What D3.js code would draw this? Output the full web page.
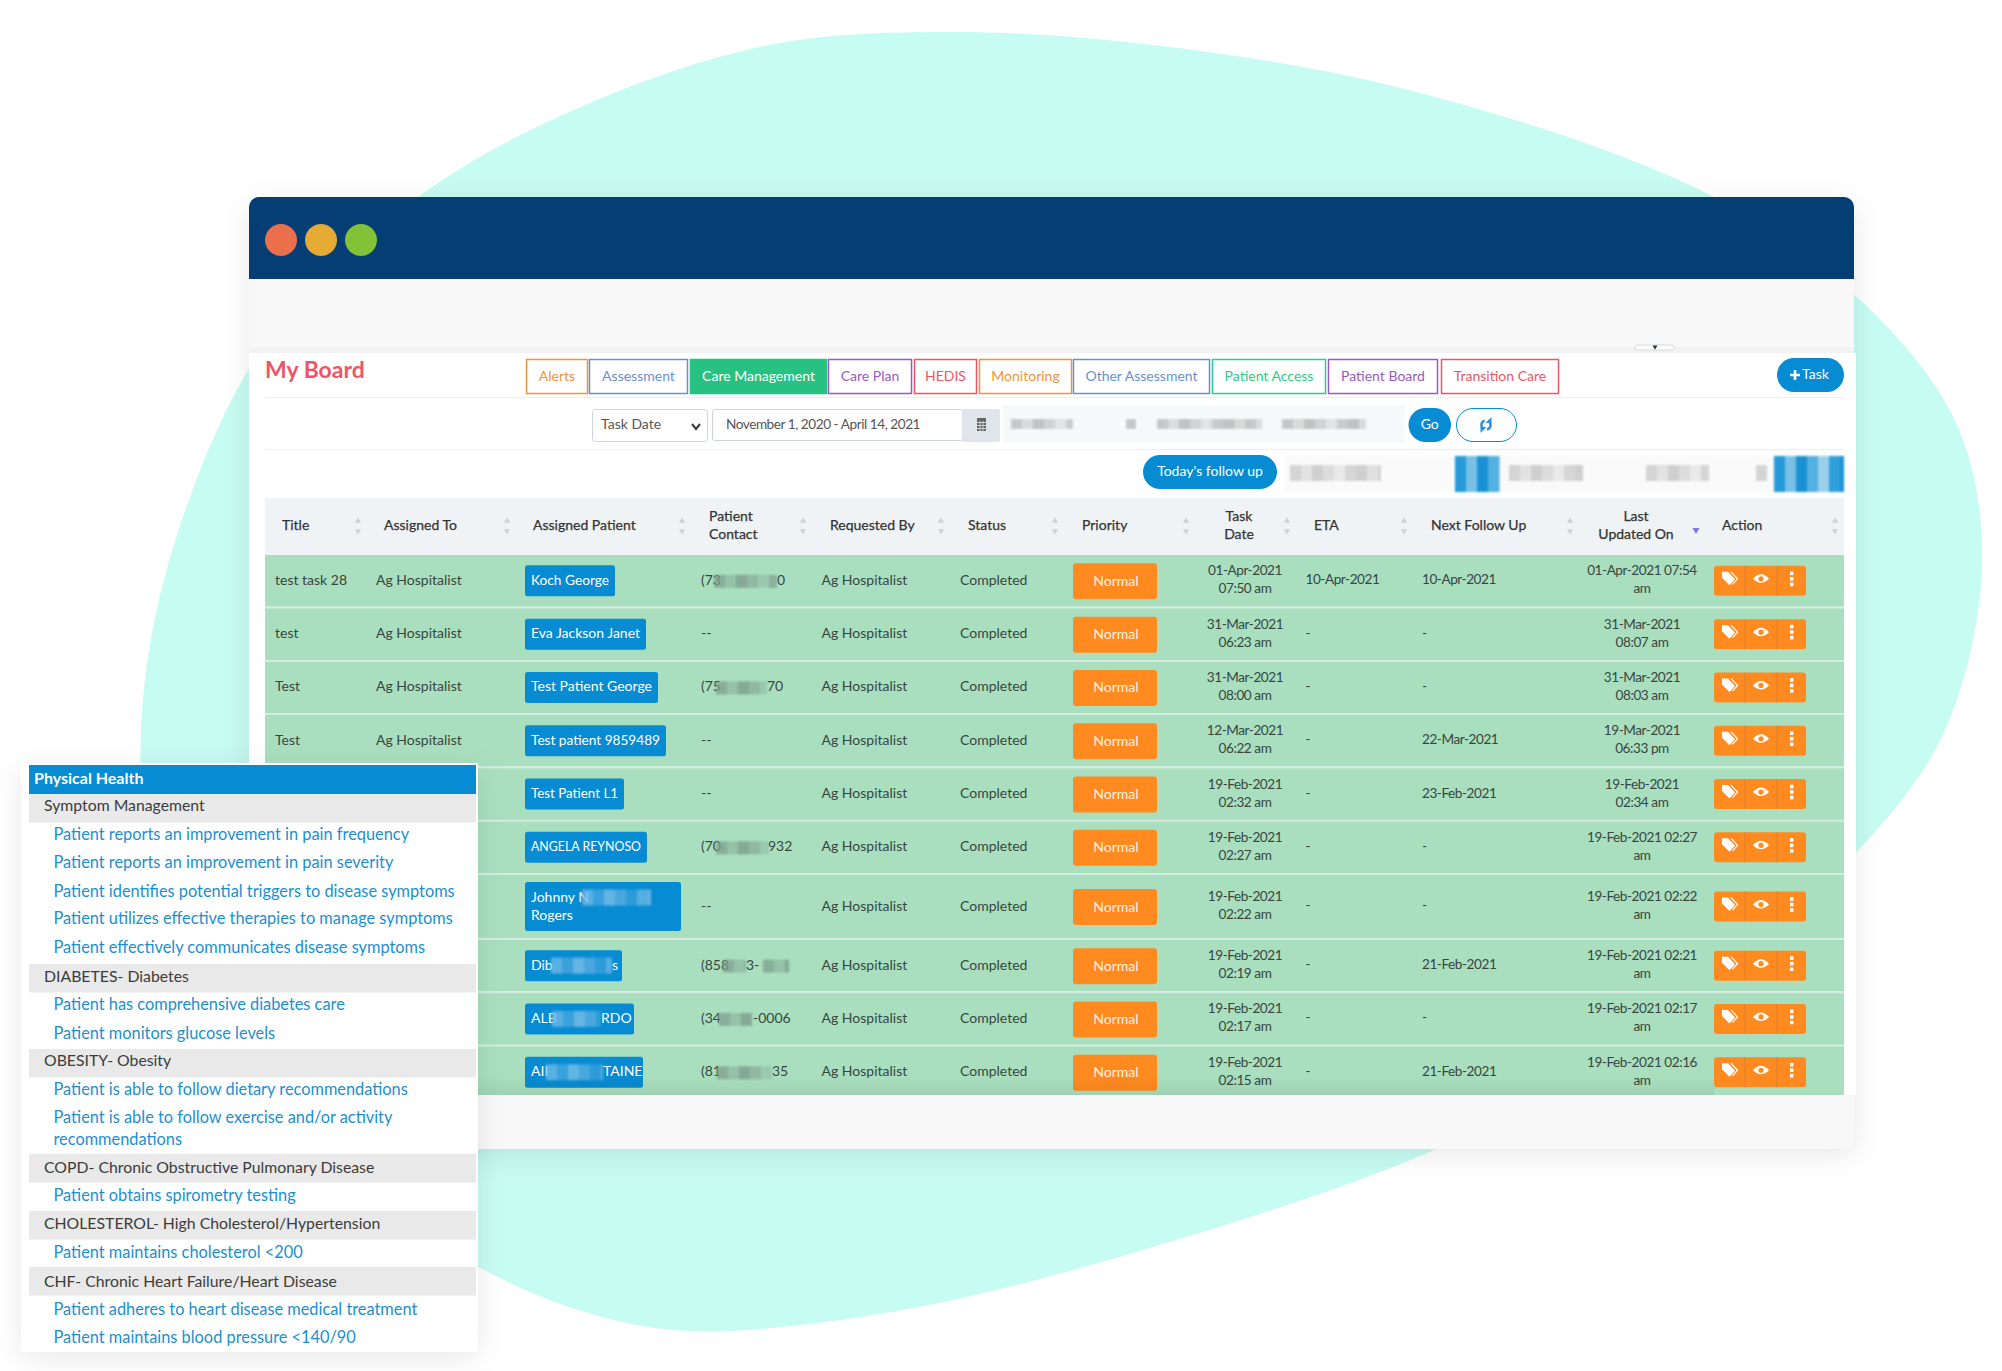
<!DOCTYPE html>
<html>
<head>
<meta charset="utf-8">
<title>My Board</title>
<script src="https://cdnjs.cloudflare.com/ajax/libs/d3/7.8.5/d3.min.js"></script>
<style>
  html, body { margin: 0; background: #fff; }
  svg { display: block; font-family: Lato, "Open Sans", sans-serif; }
  text { dominant-baseline: central; }
</style>
</head>
<body>
<div id="chart"></div>
<script>
// ---- data ----
const tabNames = ["Alerts", "Assessment", "Care Management", "Care Plan", "HEDIS", "Monitoring", "Other Assessment", "Patient Access", "Patient Board", "Transition Care"];
const columnNames = ["Title", "Assigned To", "Assigned Patient", "Patient|Contact", "Requested By", "Status", "Priority", "Task|Date", "ETA", "Next Follow Up", "Last|Updated On", "Action"];

// rows 5-10 of the first two columns sit behind the checklist panel
const titles = ["test task 28", "test", "Test", "Test", "", "", "", "", "", ""];
const assignedTo = ["Ag Hospitalist", "Ag Hospitalist", "Ag Hospitalist", "Ag Hospitalist", "", "", "", "", "", ""];
const patients = ["Koch George", "Eva Jackson Janet", "Test Patient George", "Test patient 9859489", "Test Patient L1", "ANGELA REYNOSO", "Johnny N|Rogers", "Dib", "ALB", "AII"];
const patientTails = ["", "", "", "", "", "", "", "s", "RDO", "TAINE"];
const contacts = ["(73", "--", "(75", "--", "--", "(70", "--", "(858", "(34", "(81"];
const contactTails = ["0", "", "70", "", "", "932", "", "3-", "-0006", "35"];
const requestedBy = ["Ag Hospitalist", "Ag Hospitalist", "Ag Hospitalist", "Ag Hospitalist", "Ag Hospitalist", "Ag Hospitalist", "Ag Hospitalist", "Ag Hospitalist", "Ag Hospitalist", "Ag Hospitalist"];
const statuses = ["Completed", "Completed", "Completed", "Completed", "Completed", "Completed", "Completed", "Completed", "Completed", "Completed"];
const priorities = ["Normal", "Normal", "Normal", "Normal", "Normal", "Normal", "Normal", "Normal", "Normal", "Normal"];
const taskDates = ["01-Apr-2021|07:50 am", "31-Mar-2021|06:23 am", "31-Mar-2021|08:00 am", "12-Mar-2021|06:22 am", "19-Feb-2021|02:32 am", "19-Feb-2021|02:27 am", "19-Feb-2021|02:22 am", "19-Feb-2021|02:19 am", "19-Feb-2021|02:17 am", "19-Feb-2021|02:15 am"];
const etas = ["10-Apr-2021", "-", "-", "-", "-", "-", "-", "-", "-", "-"];
const nextFollowUps = ["10-Apr-2021", "-", "-", "22-Mar-2021", "23-Feb-2021", "-", "-", "21-Feb-2021", "-", "21-Feb-2021"];
const lastUpdated = ["01-Apr-2021 07:54|am", "31-Mar-2021|08:07 am", "31-Mar-2021|08:03 am", "19-Mar-2021|06:33 pm", "19-Feb-2021|02:34 am", "19-Feb-2021 02:27|am", "19-Feb-2021 02:22|am", "19-Feb-2021 02:21|am", "19-Feb-2021 02:17|am", "19-Feb-2021 02:16|am"];

const healthTitle = "Physical Health";
const healthGroups = ["Symptom Management", "DIABETES- Diabetes", "OBESITY- Obesity", "COPD- Chronic Obstructive Pulmonary Disease", "CHOLESTEROL- High Cholesterol/Hypertension", "CHF- Chronic Heart Failure/Heart Disease"];
const healthItems = [
    ["Patient reports an improvement in pain frequency", "Patient reports an improvement in pain severity", "Patient identifies potential triggers to disease symptoms", "Patient utilizes effective therapies to manage symptoms", "Patient effectively communicates disease symptoms"],
    ["Patient has comprehensive diabetes care", "Patient monitors glucose levels"],
    ["Patient is able to follow dietary recommendations", "Patient is able to follow exercise and/or activity|recommendations"],
    ["Patient obtains spirometry testing"],
    ["Patient maintains cholesterol <200"],
    ["Patient adheres to heart disease medical treatment", "Patient maintains blood pressure <140/90"]
];

// ---- layout ----
const W = 2002, H = 1371;
const BLUE = "#078BD2", ORANGE = "#FF8A1F", ROW_BG = "#A9DFBF", INK = "#38463F", MINT = "#C7FCF2";
const FONT_ROW = 14, FONT_LIST = 16.35, FONT_GROUP = 15.8;
const BASELINE_FIX = -1.5; // Lato sits a little low with a central baseline

const blobPoints = [[948,32],[769,45],[576,109],[418,197],[272,333],[176,538],[141,730],[160,922],[256,1127],[480,1268],[585,1312],[690,1331],[897,1311],[1153,1247],[1448,1144],[1665,1023],[1856,853],[1945,730],[1982,563],[1956,423],[1857,297],[1704,192],[1409,90],[1153,45]];

const tabEdges = [[526,588],[589,688],[690,827],[828,912],[914,977],[979,1072],[1073,1210],[1212,1326],[1328,1438],[1441,1559]];
const tabColors = ["#F39237", "#6A8FD0", "#27C281", "#9B59C6", "#EE5566", "#F39237", "#6A8FD0", "#2ECC8A", "#9B59C6", "#EE5566"];

const headerX = [282, 384, 533, 709, 830, 968, 1082, 1239, 1314, 1431, 1636, 1722];
const sortX = [358, 507, 682, 803, 941, 1055, 1186, 1287, 1404, 1570, 1696, 1835];
const chipRight = [615, 646, 658, 666, 624, 647, 681, 622, 634, 643];
const tailX = [0, 0, 0, 0, 0, 0, 0, 612, 601, 603];
const contactTailX = [777, 0, 767, 0, 0, 768, 0, 746, 753, 772];
const patientBlur = [null, null, null, null, null, null, [582, 651], [551, 612], [552, 601], [546, 603]];
const contactBlur = [[[714, 777]], null, [[716, 767]], null, null, [[716, 769]], null, [[723, 746], [763, 789]], [[719, 752]], [[717, 772]]];

const svg = d3.select("#chart").append("svg").attr("width", W).attr("height", H).attr("viewBox", `0 0 ${W} ${H}`);
const defs = svg.append("defs");

const shadow = defs.append("filter").attr("id", "shadow").attr("x", "-10%").attr("y", "-10%").attr("width", "120%").attr("height", "120%");
shadow.append("feDropShadow").attr("dx", 0).attr("dy", 6).attr("stdDeviation", 14).attr("flood-color", "#000").attr("flood-opacity", 0.09);
defs.append("filter").attr("id", "soft").append("feGaussianBlur").attr("stdDeviation", 1.2);
const fade = defs.append("linearGradient").attr("id", "fade").attr("x1", 0).attr("x2", 0).attr("y1", 0).attr("y2", 1);
fade.append("stop").attr("offset", 0).attr("stop-color", "#000").attr("stop-opacity", 0);
fade.append("stop").attr("offset", 1).attr("stop-color", "#000").attr("stop-opacity", 0.06);

function label(g, x, y, str, size, fill, anchor, weight) {
    return g.append("text").attr("x", x).attr("y", y + BASELINE_FIX).attr("font-size", size).attr("fill", fill)
        .attr("text-anchor", anchor || "start").attr("font-weight", weight || 400).text(str);
}

// multi-line helper, "|" splits lines
function lines(g, x, y, str, size, fill, anchor, step) {
    const parts = str.split("|");
    return parts.map((p, i) => label(g, x, y + (i - (parts.length - 1) / 2) * step, p, size, fill, anchor));
}

// pixelated smudge that hides a name or phone number
function mosaic(g, x0, x1, y0, y1, color, opacity) {
    const m = g.append("g").attr("filter", "url(#soft)");
    const cols = d3.range(x0, x1, 11);
    const shades = [0.9, 0.55, 1, 0.7, 0.4, 0.85, 1, 0.6];
    cols.forEach((x, i) => {
        m.append("rect").attr("x", x).attr("y", y0).attr("width", Math.min(11, x1 - x)).attr("height", y1 - y0)
            .attr("fill", color).attr("opacity", opacity * shades[i % shades.length]);
    });
}

// dates have wide digits in Lato, pull them together
const tight = sel => sel.attr("font-size", 13.6).attr("letter-spacing", -0.45);

// ---- background blob ----
svg.append("path")
    .attr("d", d3.line().curve(d3.curveCatmullRomClosed.alpha(0.5))(blobPoints))
    .attr("fill", MINT);

// ---- browser window ----
const win = svg.append("g");
win.append("rect").attr("x", 249).attr("y", 197).attr("width", 1605).attr("height", 952).attr("rx", 10)
    .attr("fill", "#F8F8F8").attr("filter", "url(#shadow)");
win.append("path").attr("d", "M249,279V207a10,10 0 0 1 10,-10H1844a10,10 0 0 1 10,10V279Z").attr("fill", "#053D75");
[["#EC6F4C", 281], ["#E5AB35", 321], ["#81C236", 361]].forEach(([c, x]) => {
    win.append("circle").attr("cx", x).attr("cy", 240).attr("r", 16).attr("fill", c);
});

// white page area
win.append("rect").attr("x", 249).attr("y", 353).attr("width", 1607).attr("height", 742).attr("fill", "#fff");
win.append("rect").attr("x", 249).attr("y", 347).attr("width", 1605).attr("height", 6).attr("fill", "#F1F2F3");
win.append("rect").attr("x", 1635).attr("y", 345).attr("width", 39).attr("height", 5).attr("rx", 2).attr("fill", "#fff").attr("stroke", "#D6D9DD");
win.append("path").attr("d", d3.symbol(d3.symbolTriangle, 10)()).attr("transform", "translate(1655,347) rotate(180)").attr("fill", "#333");

label(win, 265, 370.5, "My Board", 23, "#EE5566", "start", 700);

// tabs
const tabs = win.selectAll("g.tab").data(tabNames).join("g").attr("class", "tab");
tabs.append("rect")
    .attr("x", (d, i) => tabEdges[i][0] + 0.5).attr("y", 359.5)
    .attr("width", (d, i) => tabEdges[i][1] - tabEdges[i][0] - 1).attr("height", 34)
    .attr("fill", (d, i) => i === 2 ? tabColors[i] : "#fff")
    .attr("stroke", (d, i) => tabColors[i]).attr("stroke-width", 1.5);
tabs.append("text")
    .attr("x", (d, i) => (tabEdges[i][0] + tabEdges[i][1]) / 2).attr("y", 377 + BASELINE_FIX)
    .attr("text-anchor", "middle").attr("font-size", FONT_ROW)
    .attr("fill", (d, i) => i === 2 ? "#fff" : tabColors[i]).text(d => d);

// + Task
win.append("rect").attr("x", 1777).attr("y", 358).attr("width", 67).attr("height", 34).attr("rx", 17).attr("fill", BLUE);
label(win, 1802, 375, "Task", FONT_ROW, "#fff");
win.append("path").attr("d", "M1790,375h10M1795,370v10").attr("stroke", "#fff").attr("stroke-width", 2.6);

win.append("rect").attr("x", 265).attr("y", 397).attr("width", 1579).attr("height", 1).attr("fill", "#ECEEF1");
win.append("rect").attr("x", 265).attr("y", 449).attr("width", 1579).attr("height", 1).attr("fill", "#ECEEF1");

// filter row
win.append("rect").attr("x", 592.5).attr("y", 409.5).attr("width", 115).attr("height", 32).attr("rx", 3).attr("fill", "#fff").attr("stroke", "#CDD4E0");
label(win, 601, 425, "Task Date", FONT_ROW, "#555");
win.append("path").attr("d", "M692,424l4,5l4,-5").attr("fill", "none").attr("stroke", "#444").attr("stroke-width", 2.2);
win.append("rect").attr("x", 712.5).attr("y", 409.5).attr("width", 250).attr("height", 31).attr("rx", 2).attr("fill", "#fff").attr("stroke", "#CDD4E0");
tight(label(win, 726, 425, "November 1, 2020 - April 14, 2021", FONT_ROW, "#555"));
win.append("rect").attr("x", 962).attr("y", 409).attr("width", 38).attr("height", 33).attr("rx", 2).attr("fill", "#E0E5EC");
win.append("rect").attr("x", 977).attr("y", 418).attr("width", 9).attr("height", 13).attr("fill", "#666");
win.append("path").attr("d", "M977,422.5h9M977,425.5h9M977,428.5h9M980,421v10M983,421v10").attr("stroke", "#E0E5EC").attr("stroke-width", 0.8);

win.append("rect").attr("x", 1003).attr("y", 405).attr("width", 402).attr("height", 38).attr("fill", "#F7F8F9").attr("filter", "url(#soft)");
[[1011, 1073], [1126, 1136], [1157, 1262], [1282, 1366]].forEach(([a, b]) => mosaic(win, a, b, 419, 429, "#BDBDBD", 0.9));

win.append("rect").attr("x", 1408.5).attr("y", 408).attr("width", 42.5).attr("height", 34).attr("rx", 17).attr("fill", BLUE);
label(win, 1429.7, 425, "Go", FONT_ROW, "#fff", "middle");
win.append("rect").attr("x", 1456.5).attr("y", 408.5).attr("width", 60).attr("height", 33).attr("rx", 16.5).attr("fill", "#fff").attr("stroke", BLUE);
// refresh glyph: two arcs, each with its arrow head
[[0.5, 2.9, "M1491.5,417v6h-6Z"], [3.6, 6.0, "M1480.5,433v-6h6Z"]].forEach(([a0, a1, head]) => {
    win.append("path").attr("d", d3.arc()({ innerRadius: 3.4, outerRadius: 5.8, startAngle: a0, endAngle: a1 })).attr("transform", "translate(1486,425)").attr("fill", "#2E8FDD");
    win.append("path").attr("d", head).attr("fill", "#2E8FDD");
});

// today's row
win.append("rect").attr("x", 1143).attr("y", 455).attr("width", 134).attr("height", 34).attr("rx", 17).attr("fill", BLUE);
label(win, 1210, 472, "Today's follow up", FONT_ROW, "#fff", "middle");
win.append("rect").attr("x", 1284).attr("y", 456).attr("width", 560).attr("height", 36).attr("fill", "#FAFAFB").attr("filter", "url(#soft)");
[[1290, 1381], [1509, 1583], [1646, 1709], [1756, 1767]].forEach(([a, b]) => mosaic(win, a, b, 465, 481, "#C8C8C8", 0.85));
[[1455, 1500], [1774, 1844]].forEach(([a, b]) => mosaic(win, a, b, 456, 492, BLUE, 0.95));

// table header
win.append("rect").attr("x", 265).attr("y", 498).attr("width", 1579).attr("height", 57).attr("fill", "#F0F3F6");
const centred = new Set([7, 10]);
columnNames.forEach((c, i) => {
    lines(win, headerX[i], 526, c, FONT_ROW, "#333", centred.has(i) ? "middle" : "start", 18)
        .forEach(t => t.attr("stroke", "#333").attr("stroke-width", 0.25));
    if (i === 10) {
        win.append("path").attr("d", d3.symbol(d3.symbolTriangle, 22)()).attr("transform", `translate(${sortX[i]},530) rotate(180)`).attr("fill", "#7C7CE0");
    } else {
        win.append("path").attr("d", d3.symbol(d3.symbolTriangle, 18)()).attr("transform", `translate(${sortX[i]},521)`).attr("fill", "#CFD3D8");
        win.append("path").attr("d", d3.symbol(d3.symbolTriangle, 18)()).attr("transform", `translate(${sortX[i]},531) rotate(180)`).attr("fill", "#CFD3D8");
    }
});

// table rows, a name that wraps makes its row taller
const rowIdx = d3.range(patients.length);
const heights = patients.map(p => p.includes("|") ? 65 : 53.3);
const tops = [0, ...d3.cumsum(heights)];
const yRow = d3.scaleLinear().domain([0, tops[tops.length - 1]]).range([555, 555 + tops[tops.length - 1]]);

defs.append("clipPath").attr("id", "rowsClip").append("rect").attr("x", 265).attr("y", 555).attr("width", 1579).attr("height", 540);
const rows = win.append("g").attr("clip-path", "url(#rowsClip)").selectAll("g").data(rowIdx).join("g");
rows.append("rect").attr("x", 265).attr("y", i => yRow(tops[i])).attr("width", 1579).attr("height", i => heights[i] - 1.6).attr("fill", ROW_BG);
rows.append("rect").attr("x", 265).attr("y", i => yRow(tops[i]) + heights[i] - 1.6).attr("width", 1579).attr("height", 1.6).attr("fill", "#D6ECE0");

rows.each(function (i) {
    const g = d3.select(this);
    const cy = yRow(tops[i]) + heights[i] / 2 - 0.8;

    label(g, 275, cy, titles[i], FONT_ROW, INK);
    label(g, 376, cy, assignedTo[i], FONT_ROW, INK);

    // patient chip
    const tall = heights[i] > 60;
    const chipH = tall ? 49 : 31;
    g.append("rect").attr("x", 525).attr("y", cy - chipH / 2).attr("width", chipRight[i] - 525).attr("height", chipH).attr("rx", 2.5).attr("fill", BLUE);
    const nameTexts = lines(g, 531, cy, patients[i], FONT_ROW, "#fff", "start", 18);
    if (!tall && !patientTails[i]) {
        // whole name visible: make it fill the chip as it does in the picture
        nameTexts[0].attr("textLength", chipRight[i] - 525 - 12).attr("lengthAdjust", "spacingAndGlyphs");
    }
    if (patientTails[i]) label(g, tailX[i], cy, patientTails[i], FONT_ROW, "#fff");
    if (patientBlur[i]) {
        const [a, b] = patientBlur[i];
        const dy = tall ? -9 : 0;
        mosaic(g, a, b, cy + dy - 8, cy + dy + 8, "#6DB9E6", 0.9);
    }

    // contact
    label(g, 701, cy, contacts[i], FONT_ROW, INK);
    if (contactTails[i]) label(g, contactTailX[i], cy, contactTails[i], FONT_ROW, INK);
    (contactBlur[i] || []).forEach(([a, b]) => mosaic(g, a, b, cy - 6, cy + 7, "#7FA08E", 0.85));

    label(g, 821.5, cy, requestedBy[i], FONT_ROW, INK);
    label(g, 960, cy, statuses[i], FONT_ROW, INK);

    // priority
    g.append("rect").attr("x", 1073).attr("y", cy - 17.5).attr("width", 84).attr("height", 36).attr("rx", 3).attr("fill", ORANGE);
    label(g, 1116, cy + 1, priorities[i], FONT_ROW, "#FFF3E4", "middle");

    lines(g, 1245, cy, taskDates[i], FONT_ROW, INK, "middle", 18).forEach(tight);
    tight(label(g, 1305.5, cy, etas[i], FONT_ROW, INK));
    tight(label(g, 1422, cy, nextFollowUps[i], FONT_ROW, INK));
    lines(g, 1642, cy, lastUpdated[i], FONT_ROW, INK, "middle", 18).forEach(tight);

    // action buttons
    g.append("rect").attr("x", 1714).attr("y", cy - 15).attr("width", 92).attr("height", 30).attr("rx", 3).attr("fill", ORANGE);
    g.append("path").attr("d", `M1745,${cy - 15}v30M1777,${cy - 15}v30`).attr("stroke", "#DB8030").attr("stroke-width", 1);
    const iy = cy - 2;
    g.append("path").attr("d", `M1722,${iy - 7}h6l7,7.5l-5.5,6l-7.5,-7.5Z`).attr("fill", "#fff");
    g.append("path").attr("d", `M1731,${iy - 7}l6.5,7l-5,5.5`).attr("fill", "none").attr("stroke", "#fff").attr("stroke-width", 1.2);
    g.append("path").attr("d", `M1753,${iy}Q1761,${iy - 9} 1769,${iy}Q1761,${iy + 8} 1753,${iy}Z`).attr("fill", "#fff");
    g.append("circle").attr("cx", 1761).attr("cy", iy).attr("r", 2.6).attr("fill", ORANGE);
    [-5.5, 0, 5.5].forEach(d => g.append("rect").attr("x", 1790).attr("y", iy + d - 1.8).attr("width", 3.4).attr("height", 3.6).attr("fill", "#fff"));
});
win.append("rect").attr("x", 265).attr("y", 1075).attr("width", 1449).attr("height", 20).attr("fill", "url(#fade)");

// ---- checklist panel ----
const panel = svg.append("g");
panel.append("rect").attr("x", 21).attr("y", 763).attr("width", 457).attr("height", 589).attr("fill", "#fff").attr("filter", "url(#shadow)");
panel.append("rect").attr("x", 29).attr("y", 765).attr("width", 447).attr("height", 29).attr("fill", BLUE);
label(panel, 34, 779, healthTitle, 16, "#fff", "start", 700);

const groupTop = [794, 964, 1049, 1154, 1211, 1267];
const groupTextY = [806, 976.5, 1061, 1168, 1224, 1281.5];
const itemYs = [[835, 863, 892, 919, 948], [1005, 1034], [1090, 1118], [1195.5], [1253], [1310, 1338]];
healthGroups.forEach((name, g) => {
    panel.append("rect").attr("x", 29).attr("y", groupTop[g]).attr("width", 447).attr("height", 28.5).attr("fill", "#E9E9E9");
    label(panel, 44, groupTextY[g], name, FONT_GROUP, "#3C3C3C");
    healthItems[g].forEach((item, j) => {
        item.split("|").forEach((line, k) => label(panel, 53.5, itemYs[g][j] + k * 22, line, FONT_LIST, "#1B8FD0"));
    });
});
</script>
</body>
</html>
